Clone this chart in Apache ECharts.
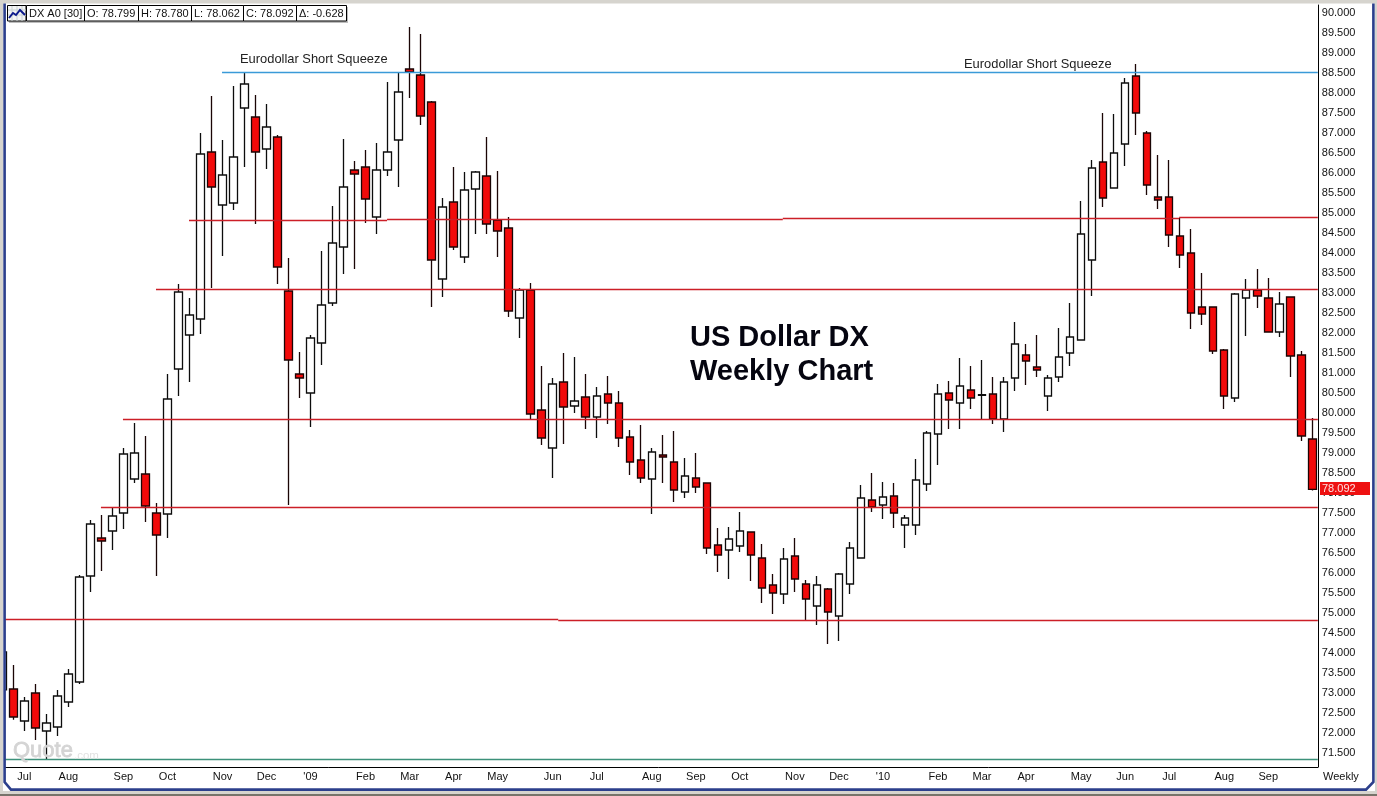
<!DOCTYPE html>
<html>
<head>
<meta charset="utf-8">
<script src="https://cdn.jsdelivr.net/npm/echarts@6/dist/echarts.min.js"></script>
<style>html,body{margin:0;padding:0;background:#fff;overflow:hidden}#c{width:1377px;height:796px}</style>
</head>
<body>
<div id="c"></div>
<script>
const opens = [73.08,
 73.10,72.30,73.00,72.05,72.15,72.775,73.275,75.925,76.875,77.05,
 77.50,78.35,78.475,77.50,77.475,81.10,81.95,82.35,86.525,85.20,
 85.25,87.625,87.40,86.60,86.90,83.05,80.975,80.50,81.75,82.75,
 84.15,86.075,86.15,84.90,86.075,86.825,88.60,88.45,87.775,83.35,
 85.275,83.90,85.60,85.925,84.825,84.625,82.375,83.075,80.075,79.125,
 80.775,80.175,80.40,79.90,80.475,80.25,79.40,78.825,78.35,78.95,
 78.775,78.025,78.375,78.25,76.70,76.575,76.675,77.025,76.375,75.70,
 75.475,76.425,75.725,75.175,75.60,74.925,75.725,76.375,77.825,77.70,
 77.925,77.20,77.20,78.225,79.475,80.50,80.25,80.575,80.44,80.475,
 79.85,80.875,81.45,81.15,80.425,80.90,81.50,81.825,83.825,86.275,
 85.625,86.725,88.425,87.00,85.40,85.40,84.425,84.00,82.65,82.65,
 81.575,80.375,82.875,83.075,82.875,82.025,82.90,81.45,79.35];
const closes = [74.03,
 72.40,72.80,72.125,72.25,72.925,73.475,75.90,77.225,76.80,77.425,
 78.975,79.00,77.675,76.95,80.35,83.025,82.45,86.475,85.65,85.95,
 86.40,88.225,86.525,87.15,83.65,81.325,80.875,81.875,82.70,84.25,
 85.65,85.975,85.35,86.075,86.525,88.025,88.525,87.425,83.825,85.15,
 84.15,85.575,86.025,84.725,84.55,82.55,83.075,79.975,79.375,80.725,
 80.15,80.30,79.90,80.425,80.25,79.375,78.775,78.375,79.025,78.90,
 78.075,78.425,78.15,76.625,76.45,76.85,77.05,76.45,75.625,75.50,
 76.35,75.85,75.35,75.70,75.025,75.975,76.625,77.875,77.65,77.90,
 77.50,77.375,78.325,79.50,80.475,80.325,80.675,80.375,80.46,79.85,
 80.775,81.725,81.30,81.075,80.875,81.40,81.90,84.475,86.125,85.375,
 86.50,88.25,87.50,85.70,85.325,84.45,83.95,82.50,82.475,81.55,
 80.425,82.975,83.075,82.925,82.025,82.725,81.425,79.425,78.092];
const lows = [73.08,
 72.33,72.05,71.825,71.35,71.925,72.65,73.225,75.525,76.05,76.575,
 77.10,78.25,77.275,75.925,76.875,80.425,80.775,81.975,83.125,83.925,
 85.075,86.15,84.725,86.10,83.225,77.70,80.375,79.65,81.20,82.675,
 83.475,83.60,84.75,84.475,85.925,85.65,87.875,87.20,82.65,82.90,
 84.075,83.75,84.475,84.475,83.90,82.40,81.875,79.85,79.20,78.375,
 79.225,80.00,79.60,79.375,79.725,79.15,78.45,78.25,77.475,78.25,
 77.775,77.875,78.00,76.475,76.025,75.85,76.525,75.80,75.25,74.975,
 75.225,75.525,74.825,74.70,74.225,74.30,75.475,76.375,77.525,77.35,
 77.125,76.625,76.95,78.05,78.70,79.60,79.60,80.10,79.85,79.725,
 79.525,80.55,80.70,80.90,80.05,80.775,81.175,81.825,82.925,85.15,
 85.625,86.175,86.95,85.45,85.10,84.15,83.625,82.10,82.20,81.475,
 80.10,80.275,81.925,82.625,82.025,81.90,80.90,79.30,78.062];
const highs = [74.03,
 73.70,72.90,73.225,72.475,73.075,73.60,75.95,77.325,77.45,77.65,
 79.125,79.75,79.425,77.75,80.975,83.225,82.875,87.00,87.925,86.825,
 88.175,88.50,87.95,87.725,86.95,83.875,81.525,81.95,84.05,85.175,
 86.85,86.30,86.575,86.75,88.275,88.50,89.65,89.475,87.80,85.375,
 86.15,86.025,86.05,86.90,86.05,84.90,83.125,83.25,81.175,80.875,
 81.50,81.40,80.975,80.65,80.925,80.55,79.575,79.70,79.125,79.45,
 79.55,78.875,79.00,78.25,77.125,77.15,77.525,77.025,76.725,75.975,
 76.625,76.875,75.825,75.925,75.625,76.00,76.775,78.20,78.50,78.275,
 78.25,77.45,78.85,79.55,80.725,80.80,81.375,81.175,81.325,80.90,
 80.90,82.275,81.725,81.95,80.95,82.125,82.75,85.30,86.325,87.50,
 87.475,88.375,88.725,87.05,86.45,86.325,84.875,84.60,83.50,82.65,
 81.60,83.00,83.35,83.60,83.375,83.025,82.90,81.55,79.875];

const monthIndex = [2,6,11,15,20,24,28,33,37,41,45,50,54,59,63,67,72,76,80,85,89,93,98,102,106,111,115];
const monthLabels = ['Jul','Aug','Sep','Oct','Nov','Dec',"'09",'Feb','Mar','Apr','May','Jun','Jul','Aug','Sep','Oct','Nov','Dec',"'10",'Feb','Mar','Apr','May','Jun','Jul','Aug','Sep'];
const priceTicks = [71.5,72,72.5,73,73.5,74,74.5,75,75.5,76,76.5,77,77.5,78,78.5,79,79.5,80,80.5,81,81.5,82,82.5,83,83.5,84,84.5,85,85.5,86,86.5,87,87.5,88,88.5,89,89.5,90];

// Hand-drawn level lines: [week position start, week position end, price, colour name]
const levels = [
 [20.46,120,88.5125,'blue'],
 [17.46,35.45,84.8125,'red'],[35.45,71.4,84.8375,'red'],[71.4,107.4,84.8625,'red'],[107.4,120,84.8875,'red'],
 [14.46,120,83.0875,'red'],
 [11.46,120,79.8375,'red'],
 [9.46,120,77.6375,'red'],
 [0,51,74.8375,'red'],[51,120,74.8125,'red'],
 [0,120,71.3375,'green']
];
const levelColors = {red:'#cc1f27',blue:'#3a9ad8',green:'#3c917a'};
const headerCells = [['DX A0 [30]',58],['O: 78.799',54],['H: 78.780',53],['L: 78.062',52],['C: 78.092',53],['\u0394: -0.628',50]];
const lastPrice = '78.092';

const categories = opens.map(()=> '');
monthIndex.forEach((idx,k)=>{categories[idx]=monthLabels[k];});
const candleData = opens.map((o,i)=>[o,closes[i],lows[i],highs[i]]);

const font = '"Liberation Sans", Arial, sans-serif';
const lineSeries = levels.map(l=>({
  type:'line',xAxisIndex:1,yAxisIndex:0,symbol:'none',silent:true,z:5,
  data:[[l[0],l[2]],[l[1],l[2]]],
  lineStyle:{color:levelColors[l[3]],width:1.4}
}));

const gfx = [];
const txt=(x,y,t,size,opt={})=>gfx.push({type:'text',z:50,x,y,style:Object.assign({text:t,fontFamily:font,fontSize:size,fill:'#111',textVerticalAlign:'middle',verticalAlign:'middle'},opt)});
// annotations
txt(240,59,'Eurodollar Short Squeeze',12.9,{fill:'#222'});
txt(964,64,'Eurodollar Short Squeeze',12.9,{fill:'#222'});
txt(690,337.5,'US Dollar DX',29,{fontWeight:'bold',fill:'#050510'});
txt(690,371.5,'Weekly Chart',29,{fontWeight:'bold',fill:'#050510'});
// watermark
txt(13,751,'Quote',22,{fill:'#d4d4d4',stroke:'#d4d4d4',lineWidth:0.8});
txt(74,756,'.com',11.5,{fill:'#e2e2e2'});
// weekly label
txt(1323,777,'Weekly',11,{fill:'#111'});
// last price tag
gfx.push({type:'rect',z:40,shape:{x:1320,y:482,width:50,height:13},style:{fill:'#ee1111'}});
txt(1322,488.8,lastPrice,11,{fill:'#ffe0e0'});
// header bar
gfx.push({type:'rect',z:40,shape:{x:9,y:7,width:339,height:16},style:{fill:'#bdbdbd'}});
gfx.push({type:'rect',z:41,shape:{x:7.5,y:5.5,width:18.5,height:15.5},style:{fill:'#f4f4f4',stroke:'#000',lineWidth:1}});
[12,17,22].forEach(x=>gfx.push({type:'line',z:42,shape:{x1:x,y1:6,x2:x,y2:21},style:{stroke:'#c9d2d2',lineWidth:1}}));
[10,15].forEach(y=>gfx.push({type:'line',z:42,shape:{x1:8,y1:y,x2:26,y2:y},style:{stroke:'#c9d2d2',lineWidth:1}}));
gfx.push({type:'polyline',z:43,shape:{points:[[9,18],[13,13],[16,15],[20,10],[25,15]]},style:{stroke:'#0d1a8c',lineWidth:2,fill:'none'}});
let hx=26;
headerCells.forEach(c=>{
  gfx.push({type:'rect',z:41,shape:{x:hx+0.5,y:5.5,width:c[1],height:15.5},style:{fill:'#fff',stroke:'#000',lineWidth:1}});
  txt(hx+3,13.5,c[0],11,{fill:'#111'});
  hx+=c[1];
});
// window frame
const frameGrey='#d6d4ce';
[[0,0,1377,3.5],[0,0,3,796],[1375,0,2,796],[0,791,1377,5]].forEach(r=>gfx.push({type:'rect',z:30,shape:{x:r[0],y:r[1],width:r[2],height:r[3]},style:{fill:frameGrey}}));
gfx.push({type:'rect',z:31,shape:{x:0,y:794,width:1377,height:2},style:{fill:'#77736a'}});
gfx.push({type:'rect',z:29,shape:{x:0,y:3,width:4.5,height:786},style:{fill:'#fff'}});
gfx.push({type:'polyline',z:32,shape:{points:[[4.6,3.5],[4.6,782],[11,789.6],[1366,789.6],[1373.4,782],[1373.4,3.5]]},style:{stroke:'#2c3f8c',lineWidth:2.6,fill:'none'}});

const chart = echarts.init(document.getElementById('c'),null,{width:1377,height:796});
chart.setOption({
  animation:false,
  backgroundColor:'#fff',
  grid:{left:-3.2,top:5,width:1321,height:762,containLabel:false,outerBoundsMode:'none'},
  xAxis:[
   {type:'category',data:categories,boundaryGap:true,position:'bottom',
    axisLine:{lineStyle:{color:'#000',width:1}},axisTick:{show:false},splitLine:{show:false},
    axisLabel:{interval:(i,v)=>v!=='',hideOverlap:false,color:'#111',fontFamily:font,fontSize:11,margin:4}},
   {type:'value',min:0,max:120,show:false,splitLine:{show:false}}
  ],
  yAxis:{type:'value',position:'right',min:71.15,max:90.2,scale:true,
    axisLine:{show:true,onZero:false,lineStyle:{color:'#000',width:1}},axisTick:{show:false},splitLine:{show:false},
    axisLabel:{customValues:priceTicks,formatter:v=>Number(v).toFixed(3),color:'#111',fontFamily:font,fontSize:11,margin:4,padding:[2,0,0,0],showMinLabel:true,showMaxLabel:true}},
  series:[{
    type:'candlestick',xAxisIndex:0,yAxisIndex:0,data:candleData,barWidth:8,silent:true,z:3,
    itemStyle:{color:'#ffffff',color0:'#f20a0a',borderColor:'#0c0c0c',borderColor0:'#1a0505',borderWidth:1.3}
  }].concat(lineSeries),
  graphic:{elements:gfx}
});
</script>
</body>
</html>
